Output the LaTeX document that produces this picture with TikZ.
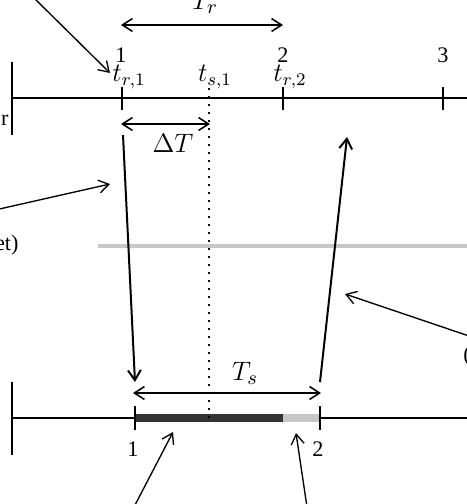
\documentclass[tikz,border=0pt]{standalone}
\usepackage{fontspec}
\setmainfont{Liberation Serif}
\usetikzlibrary{arrows.meta}

\begin{document}
\begin{tikzpicture}[x=0.45pt, y=-0.45pt, >={Straight Barb[length=4.5pt,width=5.8pt]},
    axis/.style = {line width=1.2pt},
    lowaxis/.style = {line width=0.8pt},
    thin arrow/.style = {->, line width=0.6pt},
    span/.style = {<->, line width=0.7pt},
    map/.style = {->, line width=0.9pt},
    lbl/.style = {inner sep=0pt, anchor=base}]
    \useasboundingbox (0,0) rectangle (467,504);
    \clip (0,0) rectangle (467,504);

    % Punti dell'asse in alto
    \coordinate (r0) at (12,98);
    \coordinate (r1) at (122,98);
    \coordinate (s1) at (209,98);
    \coordinate (r2) at (283,98);
    \coordinate (r3) at (443,98);
    \coordinate (rend) at (470,98);

    % Punti dell'asse in basso
    \coordinate (q0) at (12,418);
    \coordinate (q1) at (135,418);
    \coordinate (qm) at (283,418);
    \coordinate (q2) at (320,418);
    \coordinate (qend) at (470,418);

    % Etichette
    \node[lbl] (n1) at (121,63) {1};
    \node[lbl] (n2) at (283,63) {2};
    \node[lbl] (n3) at (443,63) {3};
    \node[lbl] (tr1) at (129,82) {\large $t_{r,1}$};
    \node[lbl] (ts1) at (215,82) {\large $t_{s,1}$};
    \node[lbl] (tr2) at (290,82) {\large $t_{r,2}$};
    \node[lbl] (Tr) at (205,10) {\fontsize{13}{15}\selectfont $T_r$};
    \node[lbl] (dT) at (173,152) {\fontsize{13}{15}\selectfont $\Delta T$};
    \node[lbl] (Ts) at (245,380) {\fontsize{13}{15}\selectfont $T_s$};
    \node[lbl] (m1) at (133,456) {1};
    \node[lbl] (m2) at (318,456) {2};
    \node[inner sep=0pt, anchor=east] (rx) at (9,120) {r};
    \node[inner sep=0pt, anchor=east] (etx) at (19,245) {et)};
    \node[inner sep=0pt, anchor=west] (px) at (463,356) {(};

    % Asse in alto
    \draw[axis] (r0) -- (rend);
    \draw[axis] (12,62) -- (12,135);
    \foreach \p in {r1,r2,r3}
        \draw[axis] ([yshift=5pt]\p) -- ([yshift=-5.4pt]\p);

    % Asse in basso
    \draw[lowaxis] (q0) -- (qend);
    \draw[axis] (12,382) -- (12,455);
    \draw[line width=3.8pt, black!80] (q1) -- (qm);
    \draw[line width=3.8pt, black!22] (qm) -- (q2);
    \foreach \p in {q1,q2}
        \draw[axis] ([yshift=5.4pt]\p) -- ([yshift=-5.4pt]\p);

    % Linea grigia
    \coordinate (g0) at (98,246);
    \coordinate (g1) at (470,246);
    \draw[line width=1.8pt, black!22] (g0) -- (g1);

    % Linea tratteggiata
    \coordinate (d0) at (209,88);
    \draw[line width=0.9pt, dash pattern=on 0.9pt off 2.7pt] (d0) -- (209,418);

    % Intervalli
    \coordinate (a0) at (121,25);
    \coordinate (a1) at (283,25);
    \draw[span] (a0) -- (a1);
    \coordinate (b0) at (121,124);
    \coordinate (b1) at (210,124);
    \draw[span] (b0) -- (b1);
    \coordinate (c0) at (133,393);
    \coordinate (c1) at (321,393);
    \draw[span] (c0) -- (c1);

    % Frecce di corrispondenza
    \coordinate (u0) at (123,135);
    \coordinate (u1) at (135,382);
    \draw[map] (u0) -- (u1);
    \coordinate (v0) at (320,382);
    \coordinate (v1) at (347,137);
    \draw[map] (v0) -- (v1);

    % Frecce delle note
    \coordinate (e0) at (33,-3);
    \coordinate (e1) at (110,73);
    \draw[thin arrow] (e0) -- (e1);
    \coordinate (f0) at (-5,210);
    \coordinate (f1) at (110,184);
    \draw[thin arrow] (f0) -- (f1);
    \coordinate (h0) at (472,337);
    \coordinate (h1) at (345,294);
    \draw[thin arrow] (h0) -- (h1);
    \coordinate (k0) at (134,507);
    \coordinate (k1) at (173,432);
    \draw[thin arrow] (k0) -- (k1);
    \coordinate (l0) at (307,507);
    \coordinate (l1) at (296,433);
    \draw[thin arrow] (l0) -- (l1);
\end{tikzpicture}
\end{document}
